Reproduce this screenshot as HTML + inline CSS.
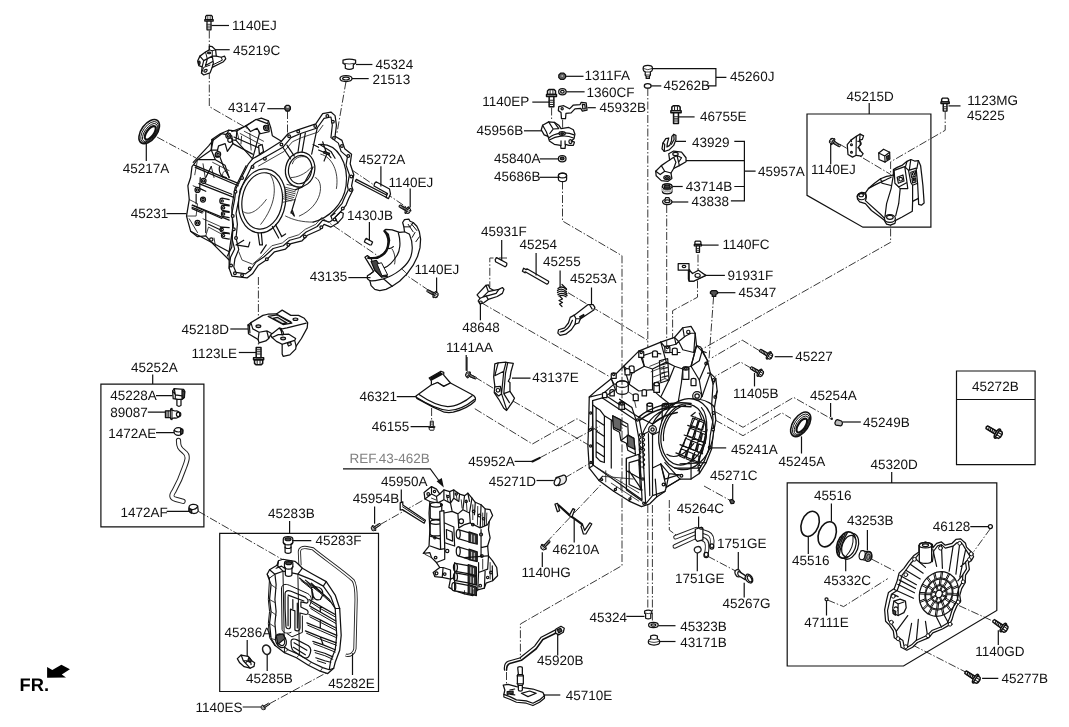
<!DOCTYPE html>
<html><head><meta charset="utf-8"><title>Diagram</title>
<style>
html,body{margin:0;padding:0;background:#fff;}
svg{display:block;filter:grayscale(1);font-family:"Liberation Sans",sans-serif;}
text{font-size:13.5px;fill:#111;text-rendering:geometricPrecision;}
.l{stroke:#111;stroke-width:1.2;fill:none;}
.d{stroke:#222;stroke-width:0.9;fill:none;stroke-dasharray:8 2 1.5 2;}
.p{stroke:#111;stroke-width:1.25;fill:#fff;stroke-linejoin:round;stroke-linecap:round;}
.n{stroke:#111;stroke-width:1.2;fill:none;stroke-linejoin:round;stroke-linecap:round;}
.t{stroke:#222;stroke-width:0.85;fill:none;stroke-linejoin:round;stroke-linecap:round;}
.g{stroke:#111;stroke-width:1.2;fill:#bbb;stroke-linejoin:round;}
.k{stroke:#111;stroke-width:1.2;fill:#444;stroke-linejoin:round;}
</style></head><body>
<svg width="1069" height="727" viewBox="0 0 1069 727">
<rect x="0" y="0" width="1069" height="727" fill="#fff"/>
<!-- 00_defs.svg -->
<defs>
<g id="bolt"><path class="p" d="M-2.2,0 h4.4 l1.2,1.2 v3 h-6.8 v-3 z"/><path class="t" d="M-1.2,0.6 v3.4 M1.2,0.6 v3.4"/><path class="p" d="M-4.2,4.2 h8.4 v1.6 h-8.4 z"/><path class="p" d="M-2,5.8 h4 v8.7 h-4 z"/><path class="t" d="M-2,9 h4 M-2,10.8 h4 M-2,12.6 h4"/></g>
<g id="sbolt"><path class="p" d="M-2,0 h4 l1,1 v2.4 h-6 v-2.4 z"/><path class="p" d="M-3.6,3.4 h7.2 v1.4 h-7.2 z"/><path class="p" d="M-1.6,4.8 h3.2 v6.5 h-3.2 z"/><path class="t" d="M-1.6,7.5 h3.2 M-1.6,9.3 h3.2"/></g>
<g id="dbolt"><path class="p" d="M0,-1.2 L9.6,-1.45 L9.6,1.45 L0,1.2 Q-0.9,0 0,-1.2 Z"/><path class="t" d="M1.6,-1.3 L2.3,1.3 M3.2,-1.3 L3.9,1.3 M4.8,-1.3 L5.5,1.3 M6.4,-1.4 L7.1,1.4 M8,-1.4 L8.6,1.4" style="stroke:#111;stroke-width:.9"/><ellipse class="p" cx="9.9" cy="0" rx="1.5" ry="4.1"/><path class="p" d="M9.9,-3.1 L12.6,-2.9 A1.2,3 0 0 1 12.6,2.9 L9.9,3.1 Z"/><path class="t" d="M10.4,-1.1 H13.6 M10.4,1.1 H13.6" style="stroke:#111"/></g>
</defs>

<!-- 10_housing.svg -->
<g transform="translate(170,95) scale(0.2751)">
<g style="vector-effect:non-scaling-stroke">
<path class="p" vector-effect="non-scaling-stroke" d="M152,162 L183,141 L213,128 L243,131 L312,90 L332,84 L358,94 L366,118 L372,148 L405,168 L430,140 L470,125 L530,105 L555,68 L585,62 L600,75 L605,110 L600,150 L625,165 L635,195 L660,215 L655,250 L668,290 L660,330 L665,345 L650,375 L640,400 L615,430 L600,445 L610,465 L585,480 L560,470 L545,490 L500,510 L480,530 L440,540 L420,560 L380,570 L350,600 L320,620 L300,650 L280,665 L225,658 L215,630 L215,600 L150,535 L130,512 L100,515 L75,495 L60,440 L70,380 L65,330 L75,300 L80,260 L100,235 L150,200 Z"/>
<!-- flange outer-left edge -->
<path class="n" vector-effect="non-scaling-stroke" d="M405,168 L330,215 L300,232 L285,250 L265,290 L240,340 L235,380 L225,430 L230,470 L225,520 L235,560 L220,590 L215,630"/>
<!-- flange inner edge -->
<path class="n" vector-effect="non-scaling-stroke" d="M312,245 L410,190 L440,155 L475,140 L535,120 L560,85 L585,80 L590,110 L585,155 L612,175 L622,205 L645,225 L640,255 L652,290 L645,330 L648,345 L635,372 L625,395 L603,420 L585,440 L590,455 L580,462 L555,455 L535,478 L495,498 L472,518 L435,528 L412,548 L375,558 L342,588 L312,608 L292,638 L275,650 L240,645 L232,625 L236,595 L250,562 L240,520 L245,470 L240,430 L250,380 L255,345 L278,298 L298,258 Z"/>
<!-- second inner edge (thickness of the flange wall) -->
<path class="t" vector-effect="non-scaling-stroke" d="M322,258 L415,205 L445,170 L478,155 L538,135 L556,110 M250,570 L262,600 L300,615 L335,585 L370,548 L408,538 L430,520 L468,508 L492,488 L530,470 L552,445"/>
<!-- main bore -->
<ellipse class="p" vector-effect="non-scaling-stroke" cx="335" cy="385" rx="85" ry="117" transform="rotate(9 335 385)"/>
<ellipse class="n" vector-effect="non-scaling-stroke" cx="335" cy="385" rx="73" ry="103" transform="rotate(9 335 385)"/>
<path class="t" vector-effect="non-scaling-stroke" d="M365,290 C390,330 385,400 330,470 M268,425 C290,440 320,420 350,380"/>
<!-- second bore -->
<ellipse class="p" vector-effect="non-scaling-stroke" cx="473" cy="271" rx="53" ry="64" transform="rotate(12 473 271)"/>
<ellipse class="n" vector-effect="non-scaling-stroke" cx="473" cy="271" rx="42" ry="52" transform="rotate(12 473 271)"/>
<path class="t" vector-effect="non-scaling-stroke" d="M445,250 C450,230 470,220 495,225 M440,300 C460,300 490,290 515,262"/>
<!-- bell inner arcs -->
<path class="n" vector-effect="non-scaling-stroke" d="M540,180 C610,172 650,250 640,330 C630,400 575,448 520,462"/>
<path class="t" vector-effect="non-scaling-stroke" d="M528,300 C560,310 560,400 470,440 M420,440 C450,455 480,462 520,462 M548,215 C590,225 615,280 605,340"/>
<!-- hatch between bores -->
<path class="t" vector-effect="non-scaling-stroke" d="M418,335 L455,345 M417,342 L455,352 M416,349 L455,359 M415,356 L453,366 M414,363 L450,373 M413,370 L446,379 M412,377 L440,385 M425,325 L470,335 L455,380 L410,390"/>
<path class="n" vector-effect="non-scaling-stroke" d="M455,345 L480,335 L520,262 M440,430 L455,380"/>
<!-- ribs top between bores -->
<path class="n" vector-effect="non-scaling-stroke" d="M410,190 L438,232 M425,182 L452,222 M475,140 L465,210 M492,138 L480,208 M535,120 L515,215 M545,180 L585,205 L600,230 M555,170 L570,215 L560,240"/>
<!-- ribs bottom -->
<path class="n" vector-effect="non-scaling-stroke" d="M372,478 L395,520 M384,472 L405,512 M320,502 L326,545 L336,545 L332,502 M268,528 L240,545 L285,552 L290,535 M440,425 L452,440 L445,420 M350,545 L330,575 M420,505 L405,515"/>
<!-- body details left -->
<path class="n" vector-effect="non-scaling-stroke" d="M88,255 L250,322 M92,263 L248,330 M105,322 L232,372 M82,400 L215,455 M80,408 L120,425 M75,495 L215,570 M213,128 L200,160 L152,162 M243,131 L240,165 L200,160 M312,90 L325,140 L300,232 M358,94 L345,130 L325,140 M240,165 L300,232 M150,200 L165,235 L100,235 M165,235 L200,255 L215,300 M130,300 L150,260 M215,600 L215,570 L230,470"/>
<path class="t" vector-effect="non-scaling-stroke" d="M255,140 L330,180 M270,132 L340,168 M330,180 L325,215 M205,280 C195,270 188,285 192,300 M155,245 L215,275 M100,235 L90,290 M70,380 L100,395 L95,440 L60,440 M130,512 L140,480 L215,520 M120,450 L210,490"/>

<!-- lugs and extra body lines -->
<path class="p" vector-effect="non-scaling-stroke" d="M276.6,112.7 L312.6,88.7 L356.6,104.7 L360.6,132.8 L328.6,140.8 L316.6,120.7 L292.6,132.8 Z"/>
<path class="p" vector-effect="non-scaling-stroke" d="M156.5,164.8 L188.5,140.8 L224.5,148.8 L228.5,176.8 L208.5,204.8 L200.5,176.8 L176.5,184.8 L172.5,200.8 L150,200 Z"/>
<circle class="n" vector-effect="non-scaling-stroke" cx="348" cy="118" r="8"/><circle class="n" vector-effect="non-scaling-stroke" cx="218" cy="164" r="8"/><circle class="n" vector-effect="non-scaling-stroke" cx="172" cy="218" r="8"/>
<path class="n" vector-effect="non-scaling-stroke" d="M224.5,132.8 L276.6,112.7 M232.5,152.8 L324.6,192.8 M228.5,176.8 L300,215 M84.4,244.9 L140.4,184.8 L156.5,164.8 M124.4,320.9 L224.5,361 M80.4,401 L188.5,449 M80.4,413 L116.4,429 M180,260 C175,285 190,300 205,300 M195,262 L215,300 M110,300 L108,340 L130,350 M95,360 L95,395 M130,420 L130,500 M140,470 L215,505 M172.5,200.8 L195,262"/>
<path class="n" vector-effect="non-scaling-stroke" d="M276.6,256.9 L236.5,336.9 L224.5,409 L228.5,489 L224.5,553 L208.5,585" />
<path class="t" vector-effect="non-scaling-stroke" d="M243,131 L250,160 M260,150 L258,178 M290,140 L295,200 M150,260 L160,300 M120,250 L128,300 M84,330 L120,345 M70,450 L100,500 M160,520 L165,548" style="stroke:#111"/>
<!-- bosses -->
<g class="p" vector-effect="non-scaling-stroke">
<circle vector-effect="non-scaling-stroke" cx="175" cy="215" r="9"/><circle vector-effect="non-scaling-stroke" cx="212" cy="148" r="9"/><circle vector-effect="non-scaling-stroke" cx="350" cy="120" r="9"/>
<circle vector-effect="non-scaling-stroke" cx="122" cy="312" r="9"/><circle vector-effect="non-scaling-stroke" cx="100" cy="345" r="9"/><circle vector-effect="non-scaling-stroke" cx="120" cy="380" r="9"/>
<circle vector-effect="non-scaling-stroke" cx="100" cy="465" r="9"/><circle vector-effect="non-scaling-stroke" cx="150" cy="525" r="6"/>
<path vector-effect="non-scaling-stroke" d="M215,380 L190,375 A8,9 0 1 0 190,395 L215,400 M215,403 L195,400 A8,9 0 1 0 195,420 L215,424 M215,427 L195,424 A8,9 0 1 0 195,442 L215,446 M215,482 L190,480 A8,9 0 1 0 190,498 L215,502 M215,504 L195,502 A8,9 0 1 0 195,520 L215,524"/>
<path vector-effect="non-scaling-stroke" d="M325,215 L322,185 L335,180 L340,205 Z"/>
</g>
<g class="n">
<circle vector-effect="non-scaling-stroke" cx="190" cy="385" r="4"/><circle vector-effect="non-scaling-stroke" cx="195" cy="410" r="4"/><circle vector-effect="non-scaling-stroke" cx="195" cy="433" r="4"/><circle vector-effect="non-scaling-stroke" cx="190" cy="489" r="4"/><circle vector-effect="non-scaling-stroke" cx="195" cy="511" r="4"/>
<circle vector-effect="non-scaling-stroke" cx="175" cy="215" r="4"/><circle vector-effect="non-scaling-stroke" cx="212" cy="148" r="4"/><circle vector-effect="non-scaling-stroke" cx="350" cy="120" r="4"/><circle vector-effect="non-scaling-stroke" cx="122" cy="312" r="4"/><circle vector-effect="non-scaling-stroke" cx="100" cy="345" r="4"/><circle vector-effect="non-scaling-stroke" cx="120" cy="380" r="4"/><circle vector-effect="non-scaling-stroke" cx="100" cy="465" r="4"/>
</g>
<!-- flange bolt holes -->
<g class="p">
<circle vector-effect="non-scaling-stroke" cx="300" cy="262" r="5"/><circle vector-effect="non-scaling-stroke" cx="345" cy="232" r="5"/><circle vector-effect="non-scaling-stroke" cx="405" cy="180" r="5"/><circle vector-effect="non-scaling-stroke" cx="433" cy="150" r="5"/><circle vector-effect="non-scaling-stroke" cx="466" cy="133" r="5"/><circle vector-effect="non-scaling-stroke" cx="528" cy="113" r="5"/><circle vector-effect="non-scaling-stroke" cx="572" cy="76" r="5"/><circle vector-effect="non-scaling-stroke" cx="592" cy="97" r="5"/><circle vector-effect="non-scaling-stroke" cx="596" cy="156" r="5"/><circle vector-effect="non-scaling-stroke" cx="625" cy="185" r="5"/><circle vector-effect="non-scaling-stroke" cx="648" cy="222" r="5"/><circle vector-effect="non-scaling-stroke" cx="659" cy="296" r="5"/><circle vector-effect="non-scaling-stroke" cx="657" cy="345" r="5"/><circle vector-effect="non-scaling-stroke" cx="628" cy="413" r="5"/><circle vector-effect="non-scaling-stroke" cx="598" cy="453" r="5"/><circle vector-effect="non-scaling-stroke" cx="550" cy="481" r="5"/><circle vector-effect="non-scaling-stroke" cx="490" cy="514" r="5"/><circle vector-effect="non-scaling-stroke" cx="430" cy="544" r="5"/><circle vector-effect="non-scaling-stroke" cx="352" cy="597" r="5"/><circle vector-effect="non-scaling-stroke" cx="290" cy="631" r="5"/><circle vector-effect="non-scaling-stroke" cx="236" cy="648" r="5"/><circle vector-effect="non-scaling-stroke" cx="240" cy="520" r="5"/><circle vector-effect="non-scaling-stroke" cx="232" cy="488" r="5"/><circle vector-effect="non-scaling-stroke" cx="238" cy="352" r="5"/><circle vector-effect="non-scaling-stroke" cx="262" cy="302" r="5"/><circle vector-effect="non-scaling-stroke" cx="228" cy="440" r="5"/><circle vector-effect="non-scaling-stroke" cx="222" cy="620" r="5"/><circle vector-effect="non-scaling-stroke" cx="262" cy="655" r="5"/>
</g>
<!-- small fittings on right -->
<path class="n" vector-effect="non-scaling-stroke" d="M600,445 L620,425 L630,430 L628,445 L610,465 M585,440 L600,430 M540,200 L575,215 L585,228 M520,180 L540,190"/>
<path class="k" vector-effect="non-scaling-stroke" d="M560,205 L580,212 L578,218 L558,211 Z"/>
</g></g>

<!-- 11_case.svg -->
<g transform="translate(570,325) scale(0.2751)">
<path class="p" vector-effect="non-scaling-stroke" d="M70,262 L100,235 L150,195 L195,150 L250,95 L330,62 L380,45 L410,10 L440,5 L455,30 L460,75 L480,95 L500,130 L510,175 L530,195 L535,240 L525,300 L530,345 L520,400 L515,450 L495,500 L470,540 L440,560 L400,560 L350,590 L345,605 L315,625 L290,650 L260,660 L215,640 L160,605 L105,565 L70,520 L65,440 L68,350 Z"/>
<!-- left face frame -->
<path class="n" vector-effect="non-scaling-stroke" d="M70,262 L120,250 L250,335 L262,400 L268,520 L275,650 M82,275 L118,265 L238,345 L250,410 L256,520 L262,635 L85,510 Z M70,520 L85,510 M105,565 L118,550 M160,605 L170,590 M215,640 L222,622"/>
<path class="n" vector-effect="non-scaling-stroke" d="M95,300 L95,480 L110,495 L125,500 L125,330 L110,310 Z M125,330 L150,345 V520 M150,345 L185,370 M95,345 L125,365 M95,385 L125,405 M95,425 L125,445 M95,460 L125,480"/>
<path class="n" vector-effect="non-scaling-stroke" d="M155,330 L210,360 L212,400 L232,412 L238,470 L210,455 L205,430 L185,420 L180,390 L158,378 Z M160,345 L205,370 M185,420 L212,400 M205,485 L250,470 L258,560 L205,530 Z M205,485 L205,530 M215,530 L262,600"/>
<path class="t" vector-effect="non-scaling-stroke" d="M100,520 L250,610 M120,550 L230,560 M150,575 L250,640 M185,560 L185,600 M130,530 L130,570"/>
<!-- chain/center column -->
<path class="n" vector-effect="non-scaling-stroke" d="M262,400 L290,385 L300,400 L300,620 L275,650 M285,395 L290,620 M300,400 L330,385 L335,340 M300,520 L330,505 L350,590 M300,620 L345,605 M315,625 L310,560"/>
<path class="n" vector-effect="non-scaling-stroke" d="M255,395 q-6,4 0,9 q6,4 0,9 q-6,4 0,9 q6,4 0,9 q-6,4 0,9 q6,4 0,9 q-6,4 0,9 q6,4 0,9 q-6,4 0,9 q6,4 0,9 q-6,4 0,9 q6,4 0,9 q-6,4 0,9 q6,4 0,9 M268,395 q6,4 0,9 q-6,4 0,9 q6,4 0,9 q-6,4 0,9 q6,4 0,9 q-6,4 0,9 q6,4 0,9 q-6,4 0,9 q6,4 0,9 q-6,4 0,9 q6,4 0,9 q-6,4 0,9 q6,4 0,9 q-6,4 0,9" style="stroke-width:1.2"/>
<!-- top surface -->
<path class="n" vector-effect="non-scaling-stroke" d="M120,250 L160,215 L215,215 L250,240 L300,235 L330,262 L360,285 L390,300 L345,330 L300,360 L250,335 M160,215 L150,195 M215,215 L225,175 L195,150 M225,175 L270,150 L300,160 L300,235 M270,150 L250,95 M300,160 L350,135 L380,150 L360,200 L330,262 M350,135 L330,62 M380,150 L410,160 L440,150 L460,75 M410,160 L405,210 L390,300 M440,150 L470,200 L480,260 L440,285 L390,300 M480,95 L470,130 L440,150"/>
<path class="n" vector-effect="non-scaling-stroke" d="M380,45 L395,60 L420,40 L440,30 L455,30 M395,60 L410,90 L450,100 L460,75 M410,10 L415,40 M330,62 L345,80 L385,70 L395,60 M345,80 L352,100 L400,100 M250,95 L262,112 L300,100 L330,105 M262,112 L270,150"/>
<path class="t" vector-effect="non-scaling-stroke" d="M290,150 L340,130 M295,170 L345,150 M300,190 L340,175 M310,210 L345,195 M165,235 L200,235 L230,255 M180,270 L225,300 M230,255 L240,300 M340,150 L345,195 L360,200"/>
<!-- bosses (cylinders) -->
<g class="p">
<path vector-effect="non-scaling-stroke" d="M168,215 a22,12 0 0 1 44,0 v25 a22,12 0 0 1 -44,0 z"/>
<path vector-effect="non-scaling-stroke" d="M178,285 a10,6 0 0 1 20,0 v22 h-20 z M145,240 a8,5 0 0 1 16,0 v18 h-16 z M230,255 a9,5 0 0 1 18,0 v20 h-18 z M280,290 a10,6 0 0 1 20,0 v25 h-20 z M335,292 a12,7 0 0 1 24,0 v40 h-24 z M305,215 a10,6 0 0 1 20,0 v30 h-20 z M410,158 a11,6 0 0 1 22,0 v40 h-22 z M150,180 a9,6 0 0 1 18,0 v14 h-18 z M250,100 a9,6 0 0 1 18,0 v18 h-18 z M345,82 a9,6 0 0 1 18,0 v18 h-18 z M372,90 a9,6 0 0 1 18,0 v18 h-18 z M215,155 a9,6 0 0 1 18,0 v18 h-18 z M262,240 a8,5 0 0 1 16,0 v18 h-16 z"/>
<circle vector-effect="non-scaling-stroke" cx="462" cy="258" r="16"/><circle vector-effect="non-scaling-stroke" cx="462" cy="258" r="8"/>
<circle vector-effect="non-scaling-stroke" cx="300" cy="380" r="14"/><circle vector-effect="non-scaling-stroke" cx="300" cy="380" r="6"/>
</g>
<g class="n">
<ellipse vector-effect="non-scaling-stroke" cx="190" cy="215" rx="22" ry="12"/><ellipse vector-effect="non-scaling-stroke" cx="188" cy="285" rx="10" ry="6"/><ellipse vector-effect="non-scaling-stroke" cx="290" cy="290" rx="10" ry="6"/><ellipse vector-effect="non-scaling-stroke" cx="347" cy="292" rx="12" ry="7"/><ellipse vector-effect="non-scaling-stroke" cx="315" cy="215" rx="10" ry="6"/><ellipse vector-effect="non-scaling-stroke" cx="421" cy="158" rx="11" ry="6"/><ellipse vector-effect="non-scaling-stroke" cx="347" cy="292" rx="6" ry="3.5"/><ellipse vector-effect="non-scaling-stroke" cx="421" cy="158" rx="5" ry="3"/><ellipse vector-effect="non-scaling-stroke" cx="188" cy="285" rx="5" ry="3"/>
<circle vector-effect="non-scaling-stroke" cx="430" cy="25" r="6"/><circle vector-effect="non-scaling-stroke" cx="159" cy="180" r="4"/><circle vector-effect="non-scaling-stroke" cx="259" cy="100" r="4"/><circle vector-effect="non-scaling-stroke" cx="354" cy="82" r="4"/>
</g>
<!-- ring / bore on right face -->
<path class="n" vector-effect="non-scaling-stroke" d="M300,360 C330,300 400,262 470,270 C500,275 520,290 525,300 M262,400 C280,350 320,300 390,300 M330,385 C345,330 390,295 440,285"/>
<ellipse class="p" vector-effect="non-scaling-stroke" cx="422" cy="397" rx="98" ry="130" transform="rotate(12 422 397)"/><ellipse class="p" vector-effect="non-scaling-stroke" cx="412" cy="398" rx="80" ry="112" transform="rotate(12 412 398)"/>
<path class="n" vector-effect="non-scaling-stroke" d="M340,420 C335,360 370,300 420,292 M352,470 C380,490 420,470 450,430 M478,300 C505,330 505,420 470,480"/>
<!-- grid inside bore -->
<path class="n" vector-effect="non-scaling-stroke" d="M440,330 L490,350 M428,365 L495,390 M415,400 L492,430 M400,435 L482,468 M385,465 L465,498 M455,335 L395,470 M472,342 L420,480 M488,350 L445,490 M498,380 L468,498 M440,330 L455,318 M470,320 L480,345" style="stroke-width:1.2"/>
<path class="n" vector-effect="non-scaling-stroke" d="M345,500 L400,560 M330,505 L360,540 L400,545 M360,540 L350,590 M470,480 L470,540 M440,500 L440,560 M380,520 L470,520 M400,505 L495,500"/>
<!-- right flange holes -->
<g class="p">
<circle vector-effect="non-scaling-stroke" cx="522" cy="200" r="5"/><circle vector-effect="non-scaling-stroke" cx="528" cy="262" r="5"/><circle vector-effect="non-scaling-stroke" cx="522" cy="320" r="5"/><circle vector-effect="non-scaling-stroke" cx="520" cy="380" r="5"/><circle vector-effect="non-scaling-stroke" cx="508" cy="445" r="5"/><circle vector-effect="non-scaling-stroke" cx="470" cy="515" r="5"/><circle vector-effect="non-scaling-stroke" cx="405" cy="548" r="5"/><circle vector-effect="non-scaling-stroke" cx="340" cy="580" r="5"/><circle vector-effect="non-scaling-stroke" cx="495" cy="140" r="5"/><circle vector-effect="non-scaling-stroke" cx="75" cy="320" r="4"/><circle vector-effect="non-scaling-stroke" cx="75" cy="380" r="4"/><circle vector-effect="non-scaling-stroke" cx="75" cy="440" r="4"/><circle vector-effect="non-scaling-stroke" cx="76" cy="500" r="4"/><circle vector-effect="non-scaling-stroke" cx="115" cy="562" r="4"/><circle vector-effect="non-scaling-stroke" cx="165" cy="598" r="4"/><circle vector-effect="non-scaling-stroke" cx="218" cy="632" r="4"/><circle vector-effect="non-scaling-stroke" cx="268" cy="648" r="4"/><circle vector-effect="non-scaling-stroke" cx="245" cy="345" r="4"/><circle vector-effect="non-scaling-stroke" cx="260" cy="450" r="4"/><circle vector-effect="non-scaling-stroke" cx="265" cy="560" r="4"/>
</g>
<path class="n" vector-effect="non-scaling-stroke" d="M460,75 L475,80 L500,130 M500,175 L510,175 M480,95 L495,100 M510,175 L520,215 L515,290 L520,345 L510,400 L505,450 L488,495 L465,530"/>

<!-- extra density -->
<path class="n" vector-effect="non-scaling-stroke" d="M250,335 C290,300 360,275 440,285 M255,345 C295,312 360,288 440,297 M300,360 C320,340 350,325 390,318" style="stroke-width:1.5"/>
<g class="n" style="stroke-width:1.1">
<path vector-effect="non-scaling-stroke" d="M446,338 L466,346 L458,372 L438,364 Z M470,348 L488,356 L482,382 L462,374 Z M434,374 L454,382 L446,410 L426,402 Z M458,384 L478,392 L472,420 L452,412 Z M482,394 L496,400 L492,428 L476,422 Z M420,412 L440,420 L432,448 L412,440 Z M444,422 L464,430 L458,458 L438,450 Z M468,432 L486,440 L480,468 L462,460 Z M404,450 L424,458 L416,484 L398,476 Z M428,460 L448,468 L442,494 L422,486 Z M452,470 L470,478 L464,502 L446,496 Z"/>
</g>
<path class="n" vector-effect="non-scaling-stroke" d="M205,485 L205,600 L262,640 M215,500 L250,490 L256,600 L215,580 Z M330,505 L345,560 L395,545 M350,590 L400,560 M120,250 L118,265 M130,258 L165,235 M325,130 L355,122 L360,200 L330,210 Z M332,145 L352,140 M332,160 L353,155 M333,175 L354,170 M334,190 L355,185" />
<path class="n" vector-effect="non-scaling-stroke" d="M82,275 L82,508 M95,300 L82,290 M240,345 L225,300 L180,270 M150,195 L165,235 M195,150 L215,215 M380,45 L385,70 M455,30 L450,100 M460,75 L440,150 M500,130 L470,200 M510,175 L480,260 M530,195 L520,215 M535,240 L528,262"/>
<g class="p">
<path vector-effect="non-scaling-stroke" d="M300,100 a9,6 0 0 1 18,0 v16 h-18 z M440,200 a9,6 0 0 1 18,0 v20 h-18 z M200,165 a9,6 0 0 1 18,0 v16 h-18 z M118,250 a8,5 0 0 1 16,0 v14 h-16 z"/>
</g>
<path class="k" vector-effect="non-scaling-stroke" d="M155,330 L185,345 L185,385 L158,372 Z M208,400 L232,412 L236,452 L210,440 Z" style="fill:#666"/>
</g>

<!-- 20_topleft.svg -->
<!-- dash-dot lines -->
<path class="d" d="M209.3,30.5 V106.6 L250,130"/>
<path class="d" d="M287.5,111 V133"/>
<path class="d" d="M157.2,137.2 L196,158"/>
<path class="d" d="M346,81.5 L337,133"/>
<path class="d" d="M352,170 L411.5,210.7"/>
<path class="d" d="M322,218 L437,296"/>
<!-- 1140EJ top bolt -->
<use href="#bolt" x="209" y="15.3"/>
<path class="l" d="M211.5,25.5 H229"/>
<!-- 45219C bracket -->
<g transform="translate(100,0) scale(0.2245)">
<path class="p" vector-effect="non-scaling-stroke" d="M487,222 L487,205 L500,208 L515,222 L518,250 L540,255 L555,250 L560,262 L550,275 L500,300 L490,325 L462,334 L452,325 L455,298 L440,292 L435,272 L445,250 L470,232 Z"/>
<path class="n" vector-effect="non-scaling-stroke" d="M455,298 L462,270 L445,250 M462,270 L500,250 L518,250 M500,250 L505,280 L500,300 M478,262 L470,292 L500,275"/>
<ellipse class="k" vector-effect="non-scaling-stroke" cx="486" cy="236" rx="7" ry="3.5"/>
<ellipse class="n" vector-effect="non-scaling-stroke" cx="470" cy="315" rx="8" ry="5" transform="rotate(-35 470 315)"/>
<ellipse class="k" vector-effect="non-scaling-stroke" cx="442" cy="280" rx="4" ry="8"/><path class="n" vector-effect="non-scaling-stroke" d="M487,222 L500,226 L500,250 M515,222 L500,226 M470,232 L478,262 M452,325 L462,300 L490,290 M540,255 L545,268 L500,290" style="stroke-width:1"/>
</g>
<path class="l" d="M215.8,49.7 H229.7"/>
<!-- 43147 nut -->
<path class="p" d="M284.8,107 l1.5,-1.6 h2.6 l1.5,1.6 v2.2 l-1.4,1.8 h-2.8 l-1.4,-1.8 z" style="fill:#555"/><ellipse cx="287.6" cy="107" rx="1.5" ry="0.9" fill="#ccc"/>
<path class="l" d="M267.3,108.7 H284.6"/>
<!-- 45217A seal -->
<g transform="rotate(36 149.2 131.6)">
<ellipse class="p" cx="149.2" cy="131.6" rx="7.8" ry="13.8" style="stroke-width:1.6"/>
<ellipse class="n" cx="149.8" cy="131.8" rx="6.4" ry="12.2" style="stroke-width:.9"/>
<ellipse class="n" cx="150.4" cy="132" rx="5.2" ry="10.6" style="stroke-width:.9"/>
<ellipse class="p" cx="150.8" cy="132" rx="3.6" ry="8" style="stroke-width:2.2"/>
</g>
<path class="l" d="M146.3,143.8 V161"/>
<!-- 45231 leader -->
<path class="l" d="M166.5,213.6 H186.5"/>
<!-- 45324 plug -->
<path class="p" d="M343,60.2 q6.2,-2 12.6,0 v3 l-2.3,1.6 v3.4 q-4,2.2 -8,0 v-3.4 l-2.3,-1.6 z"/>
<path class="t" d="M343,63.2 q6.2,1.8 12.6,0"/>
<path class="l" d="M356,64.5 H372.4"/>
<!-- 21513 washer -->
<ellipse class="p" cx="346" cy="78.6" rx="6" ry="2.9"/><ellipse class="n" cx="346" cy="78.6" rx="3.4" ry="1.4"/>
<path class="l" d="M352,78.6 H368.7"/>
<!-- 45272A tube -->
<path class="p" d="M355.3,181.2 L356.3,179.4 L388,195.8 L387,197.8 Z"/>
<path class="p" d="M374.5,183.5 L376,181.8 L389.5,189 L390.5,194 L388.5,198.6 L386,197.2 L387.5,193.5 L374,186 Z"/>
<path class="l" d="M380.9,166.2 V186.6"/>
<!-- 1140EJ small bolt -->
<use href="#dbolt" transform="translate(399.6,205.8) rotate(30) scale(0.88)"/>
<path class="l" d="M410.2,188.5 V207.5"/>
<!-- 1430JB pin -->
<path class="p" d="M365,240.2 l1.2,-1.8 l6.4,3.6 l-1.2,2.8 l-1.4,0.2 l-5.6,-3 z"/>
<path class="l" d="M369.4,222 V240.4"/>
<!-- 43135 shield -->
<g transform="translate(355,212) scale(0.12376)">
<path class="p" vector-effect="non-scaling-stroke" d="M385,85 L400,62 L435,58 L445,75 L470,85 L500,115 L520,160 L530,220 L525,290 L505,360 L470,430 L420,500 L360,560 L300,600 L250,625 L200,635 L160,625 L130,595 L120,555 L100,540 L100,515 L125,500 L150,480 L80,365 L100,352 L130,375 L180,375 L230,340 L265,290 L280,230 L270,180 L235,150 L250,140 L300,145 L360,165 L400,160 L395,120 Z"/>
<path vector-effect="non-scaling-stroke" d="M235,150 C270,190 285,240 255,310 C230,355 170,385 100,368" fill="none" stroke="#111" stroke-width="2.4"/>
<path class="n" vector-effect="non-scaling-stroke" d="M440,180 C475,260 465,340 440,385 C410,440 330,510 230,540 M350,168 C375,250 360,320 340,350 C310,400 270,440 235,452 M400,160 C420,170 435,175 440,180 M265,295 C290,300 300,290 310,280 M130,375 L160,470 L215,525 M150,480 L125,500 M120,555 C160,560 200,545 230,540 M230,540 L300,600" />
<path class="k" vector-effect="non-scaling-stroke" d="M130,400 L172,390 L262,520 L215,526 L160,470 Z"/>
<path vector-effect="non-scaling-stroke" d="M178,420 L214,410 L264,508 L218,514 Z" fill="#fff" stroke="#111" stroke-width="1"/>
<path class="n" vector-effect="non-scaling-stroke" d="M430,100 L470,160 M455,95 L500,150 M485,165 L462,205 M520,200 L492,240 M470,85 L445,120 L395,120" style="stroke-width:1"/>
<path class="t" vector-effect="non-scaling-stroke" d="M300,300 C320,330 330,380 320,420 M420,500 C400,480 390,470 380,462" style="stroke:#111"/>
</g>
<path class="l" d="M348.3,277.6 H370.5"/>
<!-- 1140EJ bottom bolt -->
<use href="#dbolt" transform="translate(427.4,290.7) rotate(27) scale(0.85)"/>
<path class="l" d="M436.6,277.6 V293"/>

<!-- 21_topcenter.svg -->
<!-- dash-dot lines top center -->
<path class="d" d="M551.6,107.5 V121"/>
<path class="d" d="M562.6,119.6 V128"/>
<path class="d" d="M562.5,181.5 V221 L622,255.7 V500"/>
<path class="d" d="M647.8,88 V348"/>
<path class="d" d="M666.7,205 V352"/>
<path class="d" d="M698,254.5 V270 M697.5,280.4 V297.2 L672.6,310.7 V339"/>
<path class="d" d="M713.6,296.5 L708.5,366"/>
<path class="d" d="M945.2,111.5 V130.3 L890.6,161.8 V242.3 L700.6,350"/>
<path class="d" d="M839.8,144.2 L890.6,174.4"/>
<path class="d" d="M759.9,351 L742.2,340.1 L711.9,357.8"/>
<path class="d" d="M751.5,368.4 L740.5,362 L715.3,376.3"/>
<path class="d" d="M507,258 H489.8 V287"/>
<path class="d" d="M568,292.7 L648.8,341"/>
<path class="d" d="M481.5,302.8 L608.4,376"/>
<!-- 1311FA nut -->
<path class="p" d="M558.8,75 l1.8,-1.8 h3.2 l1.8,1.8 v2.6 l-1.8,1.8 h-3.2 l-1.8,-1.8 z" style="fill:#666"/>
<ellipse cx="562.2" cy="76" rx="1.6" ry="1" fill="#ddd" stroke="#222" stroke-width=".5"/>
<path class="l" d="M565.6,76.3 H583.5"/>
<!-- 1360CF washer -->
<ellipse class="p" cx="562.4" cy="91.8" rx="3.7" ry="3.1"/><ellipse class="n" cx="562.4" cy="91.8" rx="1.8" ry="1.4"/>
<path class="l" d="M566.1,91.8 H584.6"/>
<!-- 1140EP bolt -->
<use href="#bolt" x="551.5" y="89.6" transform="translate(551.5,89.6) scale(1.18) translate(-551.5,-89.6)"/>
<path class="l" d="M532.3,102.1 H549.4"/>
<!-- 45932B lever -->
<g transform="translate(460,50) scale(0.2245)">
<path class="p" vector-effect="non-scaling-stroke" d="M440,252 L462,248 L488,262 L505,245 L535,243 L540,233 L562,235 L566,268 L545,272 L538,260 L512,262 L495,280 L472,282 L470,306 L452,306 L450,278 L438,270 Z"/>
<ellipse class="n" vector-effect="non-scaling-stroke" cx="455" cy="262" rx="5" ry="5"/>
<path class="n" vector-effect="non-scaling-stroke" d="M545,242 L556,243 L558,262 L547,262 Z"/>
</g>
<path class="l" d="M587.5,107.7 H595.8"/>
<!-- 45956B -->
<g transform="translate(460,50) scale(0.2245)">
<path class="p" vector-effect="non-scaling-stroke" d="M362,355 L368,335 L395,320 L420,322 L440,335 L450,350 L485,345 L505,355 L512,375 L508,395 L495,405 L510,410 L505,425 L485,425 L470,420 L468,438 L450,438 L448,425 L420,420 L398,405 L392,385 L375,378 Z"/>
<path class="n" vector-effect="non-scaling-stroke" d="M368,335 L385,365 L392,385 M395,320 L415,352 L400,372 M420,322 L440,350 L415,352 M398,390 C420,372 470,360 508,378 M400,400 C425,385 470,375 505,392 M450,425 V405 M468,420 V405"/>
<ellipse class="g" vector-effect="non-scaling-stroke" cx="455" cy="372" rx="14" ry="8"/><ellipse class="k" vector-effect="non-scaling-stroke" cx="455" cy="372" rx="6" ry="3.5"/>
<ellipse class="n" vector-effect="non-scaling-stroke" cx="492" cy="408" rx="7" ry="9"/>
</g>
<path class="l" d="M524,130.8 H542"/>
<!-- 45840A -->
<ellipse class="p" cx="562.2" cy="158.7" rx="3.8" ry="3.1"/><ellipse class="k" cx="562.2" cy="158.5" rx="1.9" ry="1.3"/>
<path class="l" d="M539.7,158.9 H558.3"/>
<!-- 45686B -->
<path class="p" d="M558.4,175.5 a4.1,2.4 0 0 1 8.2,0 v3.8 a4.1,2.4 0 0 1 -8.2,0 z"/><ellipse class="n" cx="562.5" cy="175.5" rx="4.1" ry="2.4"/>
<path class="l" d="M539.7,177.3 H558.3"/>
<!-- 45260J pin -->
<path class="p" d="M643.2,68 q0,-2.6 4.6,-2.6 q4.6,0 4.6,2.6 v1.6 q0,1.6 -2,2.2 v3 l-1,1.6 v2 h-3.2 v-2 l-1,-1.6 v-3 q-2,-0.6 -2,-2.2 z"/>
<path class="t" d="M643.2,68.5 q4.6,2.6 9.2,0 M645.2,72 h5.2 M645.2,75 h5.2 M646.2,76.8 h3.2"/>
<path class="l" d="M652.3,68.6 H715.9 V85.9 H707.4 M715.9,77.4 H726.4"/>
<!-- 45262B -->
<ellipse class="p" cx="647.7" cy="85.9" rx="3.4" ry="2.2"/>
<path class="l" d="M651.2,85.9 H661.3"/>
<!-- 46755E bolt -->
<use href="#bolt" transform="translate(676,105.7) scale(1.22)"/>
<path class="l" d="M678.4,116.9 H694.6"/>
<!-- 43929 clip -->
<g transform="translate(640,50) scale(0.2245)">
<path class="p" vector-effect="non-scaling-stroke" d="M142,385 L150,376 L160,380 L160,400 L150,425 L130,445 L108,452 L98,440 L102,415 L115,395 L128,392 L122,415 L120,432 L132,425 L140,405 Z"/>
<path class="n" vector-effect="non-scaling-stroke" d="M150,376 L152,398 L140,420 M102,415 L110,420 L108,452"/>
<!-- 45957A lever -->
<path class="p" vector-effect="non-scaling-stroke" d="M128,462 L150,450 L185,455 L205,480 L205,498 L175,515 L150,528 L138,548 L142,572 L125,585 L95,582 L72,560 L70,540 L95,515 L120,498 L132,490 Z"/>
<path class="n" vector-effect="non-scaling-stroke" d="M132,490 L150,478 L160,500 L150,528 M165,470 L172,500 L175,515 M150,478 L165,470 L185,480 L172,500 M95,515 L110,540 L138,548 M70,540 L90,555 L110,540"/>
<ellipse class="n" vector-effect="non-scaling-stroke" cx="158" cy="463" rx="12" ry="7"/>
<ellipse class="g" vector-effect="non-scaling-stroke" cx="120" cy="568" rx="14" ry="9"/><ellipse class="n" vector-effect="non-scaling-stroke" cx="120" cy="568" rx="7" ry="4"/>
</g>
<path class="l" d="M676,141.4 H686 M734.3,141.4 H744.4 V200.9 H730.9 M686,160.7 H744.4 M744.4,171.2 H755.6 M734.3,186.5 H744.4"/>
<!-- 43714B bushing -->
<path class="p" d="M662.4,186.5 a4.8,2.6 0 0 1 9.6,0 v4.8 a4.8,2.6 0 0 1 -9.6,0 z" style="fill:#777"/>
<ellipse class="p" cx="667.2" cy="186.5" rx="4.8" ry="2.6"/><ellipse class="k" cx="667.2" cy="186.7" rx="3" ry="1.5"/>
<path class="t" d="M662.4,188.5 a4.8,2.6 0 0 0 9.6,0 M662.4,190 a4.8,2.6 0 0 0 9.6,0" style="stroke:#fff"/>
<path class="l" d="M672.6,186.5 H682.7"/>
<!-- 43838 -->
<path class="p" d="M662.6,201.5 q0,-1.5 2.4,-2 l0.8,-2 h3 l0.8,2 q2.4,0.5 2.4,2 q0,3 -4.7,3 q-4.7,0 -4.7,-3 z"/>
<ellipse class="n" cx="667.3" cy="201.3" rx="2.6" ry="1.4"/>
<path class="l" d="M671.4,202 H688.3"/>
<!-- 45215D box -->
<path class="l" d="M869.2,103 V114 M807,195.3 V114 H930.9 V227.2 H862.9 Z"/>
<!-- 1123MG bolt -->
<use href="#sbolt" transform="translate(945.1,98.1) scale(1.15)"/>
<path class="l" d="M948.5,105.9 H960.5"/>
<!-- 1140EJ bolt in box -->
<use href="#dbolt" transform="translate(839.8,146) rotate(212) scale(0.85)"/>
<path class="l" d="M830.7,144.5 V164.3"/>
<!-- small bracket, cube, main bracket -->
<g transform="translate(820,125) scale(0.15133)">
<path class="p" vector-effect="non-scaling-stroke" d="M180,130 L205,100 L240,75 L265,60 L288,72 L280,95 L262,100 L268,130 L255,145 L262,165 L285,190 L275,205 L240,200 L215,212 L185,195 Z"/>
<path class="n" vector-effect="non-scaling-stroke" d="M240,75 L238,198 M265,60 L262,100 M250,108 C270,100 280,125 262,135 M250,150 C262,150 270,165 262,170 M205,100 L208,110"/>
<circle class="n" vector-effect="non-scaling-stroke" cx="208" cy="130" r="6"/><circle class="n" vector-effect="non-scaling-stroke" cx="208" cy="180" r="6"/>
<path class="p" vector-effect="non-scaling-stroke" d="M388,185 L420,160 L460,180 L462,225 L430,245 L390,228 Z"/>
<path class="n" vector-effect="non-scaling-stroke" d="M388,185 L428,205 L460,180 M428,205 L430,245"/>
<path class="k" vector-effect="non-scaling-stroke" d="M440,208 L455,200 L456,222 L442,228 Z"/>
<path class="p" vector-effect="non-scaling-stroke" d="M245,470 L255,455 L275,445 L300,448 L320,420 L360,385 L400,355 L440,340 L470,335 L485,330 L485,295 L510,280 L545,265 L575,240 L600,228 L625,238 L650,235 L665,270 L672,330 L680,400 L685,470 L688,515 L670,530 L652,525 L650,485 L612,505 L610,570 L540,610 L500,630 L495,650 L465,662 L440,655 L425,630 L400,610 L340,565 L300,520 L262,508 L248,490 Z"/>
<path class="n" vector-effect="non-scaling-stroke" d="M485,330 L470,420 L440,520 L430,600 M530,420 L520,520 L500,600 M300,448 C310,470 305,490 300,500 L400,590 L430,620 M320,420 C350,400 420,370 470,345 M400,355 L410,385 L470,400 M490,300 L560,275 L575,380 L520,410 L495,385 Z M575,380 L580,420 L530,420 L520,410 M585,300 L635,285 L645,385 L612,398 L600,380 Z M575,240 L565,275 M600,228 L590,298 M650,235 L640,288 M645,385 L650,485 M612,398 L612,505 M560,275 L585,300"/>
<path class="n" vector-effect="non-scaling-stroke" d="M510,345 L548,330 L555,370 L518,385 Z M600,312 L630,302 L635,336 L605,346 Z M608,356 L632,349 L634,376 L612,383 Z"/>
<circle class="n" vector-effect="non-scaling-stroke" cx="533" cy="358" r="12"/><circle class="n" vector-effect="non-scaling-stroke" cx="618" cy="323" r="8"/><circle class="n" vector-effect="non-scaling-stroke" cx="622" cy="364" r="6"/>
<ellipse class="n" vector-effect="non-scaling-stroke" cx="275" cy="472" rx="28" ry="22"/><ellipse class="n" vector-effect="non-scaling-stroke" cx="272" cy="464" rx="15" ry="10"/>
<ellipse class="p" vector-effect="non-scaling-stroke" cx="462" cy="618" rx="36" ry="26"/><ellipse class="n" vector-effect="non-scaling-stroke" cx="462" cy="610" rx="22" ry="13"/>
</g>
<!-- 45931F pin -->
<path class="p" d="M495.2,259.6 l1.4,-2 l10,5.4 a1.3,2.2 25 0 1 -1.6,3.8 l-9.4,-5 z"/>
<path class="l" d="M501.7,240 V260.5"/>
<!-- 45254 pin -->
<path class="p" d="M523.6,268.2 l2.6,1.4 l0.8,-0.8 l21.6,12.4 a1.2,2 30 0 1 -1.6,3 l-21.8,-12.4 l-0.2,1 l-2.6,-1.6 z"/>
<path class="l" d="M536.1,253 V275.5"/>
<!-- 45255 spring -->
<path class="n" d="M558,288.5 q4,-3.4 8.5,1 M557.5,290.5 q4,-3.4 9,1.2 M557.5,292.6 q4.4,-3.4 9.4,1.2 M558,294.6 q4.4,-3 9,1 M559,296 q3.6,-1.6 7,0.8" style="stroke-width:1.3"/>
<path class="n" d="M566.5,289 L562,284.5 M560,296.5 L562.5,299 L559,300.5 L562.5,302.5 L559.5,304 L562,306.5"/>
<path class="l" d="M560.1,270.5 V287.5"/>
<!-- 45253A lever -->
<g transform="translate(440,213) scale(0.2245)">
<path class="p" vector-effect="non-scaling-stroke" d="M660,408 L682,408 L690,420 L685,432 L625,472 L618,490 L602,495 L585,520 L560,540 L535,545 L525,535 L528,520 L555,512 L572,490 L580,465 L598,455 Z"/>
<path class="n" vector-effect="non-scaling-stroke" d="M598,455 L605,470 L625,472 M605,470 L602,495 M535,530 C560,528 580,505 590,478 M668,412 L678,428"/>
<path class="k" vector-effect="non-scaling-stroke" d="M622,462 L640,452 L642,458 L626,468 Z"/>
<!-- 48648 fork -->
<path class="p" vector-effect="non-scaling-stroke" d="M165,365 L205,322 L215,320 L222,335 L240,345 L262,340 L278,332 L285,340 L278,358 L255,372 L215,385 L195,400 L178,405 L170,392 L178,380 Z"/>
<path class="n" vector-effect="non-scaling-stroke" d="M205,322 L215,350 L190,375 L178,380 M215,350 L240,345 M190,375 L250,358 L262,340 M215,385 L205,368"/>
<circle class="n" vector-effect="non-scaling-stroke" cx="182" cy="398" r="6"/>
</g>
<path class="l" d="M591.5,287.5 V305"/>
<path class="l" d="M480.4,304 V320.3"/>
<path class="l" d="M467,357 V371"/>
<!-- 1140FC bolt -->
<use href="#sbolt" transform="translate(697.9,241)"/>
<path class="l" d="M701,245.1 H718.6"/>
<!-- 91931F bracket -->
<path class="p" d="M678.2,263.6 H689 V269.6 H689.6 V279 L698,271 L705.8,275.4 L694,281 H689 L688.4,279 V270.2 H678.2 Z" style="fill:none"/>
<path class="p" d="M689.2,270 V281 H694 L705.8,275.4 L698.5,270.2 L692.5,273.5 L689.2,270 Z"/>
<ellipse class="n" cx="697.6" cy="275.4" rx="2.6" ry="1.9"/><ellipse class="n" cx="684" cy="266.5" rx="1.8" ry="1.2"/>
<path class="l" d="M705.8,275.4 H724.9"/>
<!-- 45347 plug -->
<path class="p" d="M710.4,292 l1.6,-1.5 h4 l1.6,1.5 v1.5 l-1.8,1 v1.8 h-3.6 v-1.8 l-1.8,-1 z" style="fill:#555"/>
<path class="l" d="M717.5,292.7 H735.4"/>
<!-- 45227 bolt -->
<use href="#dbolt" transform="translate(760.2,350.4) rotate(30)"/>
<path class="l" d="M774.7,356.7 H792.7"/>
<!-- 11405B bolt -->
<use href="#dbolt" transform="translate(751,367.8) rotate(30)"/>

<!-- 22_leftmid.svg -->
<path class="d" d="M258.4,277 V324 M258.4,333 V346"/>
<path class="d" d="M198.3,511.3 L284.5,560.7"/>
<!-- 45218D bracket -->
<g transform="translate(235,300) scale(0.09626)">
<path class="p" vector-effect="non-scaling-stroke" d="M135,260 L165,235 L290,160 L340,148 L430,145 L490,105 L580,160 L660,160 L720,190 L755,235 L750,290 L690,400 L635,480 L630,510 L570,570 L500,585 L490,560 L490,460 L430,430 L385,390 L370,365 L350,400 L320,425 L250,445 L240,410 L140,350 Z"/>
<path class="n" vector-effect="non-scaling-stroke" d="M165,235 L185,300 L250,335 L330,320 L385,350 L460,290 L490,300 L540,290 L740,240 M135,260 L150,275 L165,235 M150,275 L155,340 M250,335 L240,410 M330,320 L350,400 M385,350 L370,365 M385,390 L450,360 L560,355 L630,400 L620,420 L520,450 L490,460 M460,290 L480,320 L490,365 M475,300 L500,330 L505,360 M620,420 L635,480 M430,145 L580,225"/>
<path class="p" vector-effect="non-scaling-stroke" d="M345,170 L440,155 L590,240 L500,255 Z"/>
<path class="p" vector-effect="non-scaling-stroke" d="M392,190 L440,180 L540,240 L495,246 Z" style="fill:#ddd"/>
<ellipse class="g" vector-effect="non-scaling-stroke" cx="243" cy="272" rx="25" ry="14"/><ellipse class="g" vector-effect="non-scaling-stroke" cx="628" cy="200" rx="25" ry="13"/><ellipse class="g" vector-effect="non-scaling-stroke" cx="500" cy="400" rx="25" ry="14"/>
<path class="p" vector-effect="non-scaling-stroke" d="M545,452 L578,440 L585,465 L556,478 Z"/>
</g>
<path class="l" d="M230.3,329 H248"/>
<!-- 1123LE bolt (head down) -->
<use href="#bolt" transform="translate(258.6,364.8) rotate(180) scale(1.2)"/>
<path class="l" d="M238.8,352.5 H256.4"/>
<!-- 45252A box -->
<path class="l" d="M152.7,374.5 V384.2 M100.9,384.2 H203.9 V526.8 H100.9 Z"/>
<!-- 45228A -->
<path class="p" d="M172.6,391 L174.2,388.6 L183.6,389.4 L184.8,391.4 L184.4,397.4 L182,399.4 L181,399.4 V405.4 Q179,407.2 176.9,405.4 V399.2 L173.2,398.6 Z"/>
<path class="k" d="M182,390.2 L184.6,391.6 L184.2,397.2 L182,398.8 Z"/>
<path class="n" d="M174.2,388.6 L175.4,394.8 L182,395.8 M172.6,391 L175.4,394.8 L175.2,398.8 M177,399.4 H181"/>
<!-- 89087 -->
<path class="p" d="M165.4,410.8 H170.6 V409 L172,408.4 V410.2 L175,411 A3.6,3.6 0 1 1 175,417.8 L172,418.4 V419.6 L170.6,419 V417.6 H165.4 Z"/>
<path class="t" d="M167,410.8 V417.6 M168.8,410.8 V417.6 M170.6,410.8 V417.6 M172,410.2 V418.4" style="stroke:#111;stroke-width:1"/>
<circle class="n" cx="178.6" cy="414.4" r="2.2"/>
<!-- 1472AE -->
<ellipse class="p" cx="178.4" cy="431.4" rx="4.4" ry="3.9"/>
<path class="n" d="M174.2,430.4 Q178.6,433.6 182.8,430.4"/>
<path class="k" d="M180.6,428.6 L182.8,429.4 V433.4 L180.6,434.4 Z"/>
<g transform="translate(90,300) scale(0.3301)">
<!-- hose -->
<path vector-effect="non-scaling-stroke" d="M268,425 C268,445 272,450 285,460 C300,470 295,485 285,510 C275,540 265,560 255,578 C245,592 245,600 260,604 L282,610" fill="none" stroke="#222" stroke-width="5.2" stroke-linecap="round"/>
<path vector-effect="non-scaling-stroke" d="M268,425 C268,445 272,450 285,460 C300,470 295,485 285,510 C275,540 265,560 255,578 C245,592 245,600 260,604 L282,610" fill="none" stroke="#fff" stroke-width="3.2" stroke-linecap="round"/>
<!-- 1472AF clip -->
<path class="p" vector-effect="non-scaling-stroke" d="M300,628 C300,618 320,616 326,624 L328,640 C322,650 304,648 300,640 Z"/>
<path class="n" vector-effect="non-scaling-stroke" d="M300,630 C306,638 320,636 326,626"/>
<path class="k" vector-effect="non-scaling-stroke" d="M300,632 L308,636 L308,646 L300,640 Z"/>
</g>
<path class="l" d="M156,395.7 H172.5 M147.8,412.2 H166 M156,432.7 H174.2 M166.6,511.3 H189"/>

<!-- 23_cbl.svg -->
<path class="d" d="M474.8,377 L493.4,388.3 M513,401 L590,445.8"/>
<path class="d" d="M474.8,408.7 L532.4,444 L577,418.7 L600,432"/>
<path class="d" d="M380.1,524.6 L422.8,500.4"/>
<path class="d" d="M564.6,478 L592.7,461.5"/>
<path class="d" d="M546.4,542.4 L601,484.6"/>
<path class="d" d="M539.8,457.8 L600,426"/>
<!-- 1141AA bolt -->
<use href="#dbolt" transform="translate(475.8,378.2) rotate(205) scale(0.8)"/>
<!-- 43137E + 46321 -->
<g transform="translate(405,360) scale(0.11226)">
<path class="p" vector-effect="non-scaling-stroke" d="M800,35 L830,25 L900,20 L965,30 L945,100 L935,160 L920,190 L935,200 L935,280 L975,340 L960,370 L905,450 L880,430 L835,350 L795,290 L800,230 L790,150 Z"/>
<path class="n" vector-effect="non-scaling-stroke" d="M830,25 L800,140 M900,20 L880,100 L800,140 M915,25 L895,120 L880,300 L930,380 M880,100 L860,300 L905,440 M800,240 L850,235 L860,300 L835,320 L800,290 M880,300 L935,280"/>
<circle class="n" vector-effect="non-scaling-stroke" cx="828" cy="270" r="16"/>
<path class="p" vector-effect="non-scaling-stroke" d="M215,160 L320,100 L345,110 L345,135 L405,205 L345,235 L290,200 L235,225 L235,185 Z"/>
<path vector-effect="non-scaling-stroke" d="M225,165 L322,110 M232,178 L335,122" fill="none" stroke="#111" stroke-width="2"/>
<path class="p" vector-effect="non-scaling-stroke" d="M98,320 L230,225 L290,200 L345,235 L405,205 L600,310 C625,325 635,345 622,368 C590,400 530,440 430,465 C400,470 370,468 350,465 L250,420 L105,342 Z"/>
<path class="n" vector-effect="non-scaling-stroke" d="M125,308 C200,360 300,410 380,415 C450,415 540,370 598,318 M100,332 C200,395 300,445 390,450 C470,448 560,400 618,352"/>
</g>
<path class="d" d="M431.6,408 V419.5"/>
<path class="l" d="M512,378.2 H530.5 M396.8,396.6 H416.1 M410.6,426.6 H429.4 M466.2,355 V370.7"/>
<!-- 46155 bolt -->
<use href="#sbolt" transform="translate(431.6,430.2) rotate(180) scale(0.8)"/>
<!-- REF line -->
<path d="M343,468.9 H430.3 L441,483.5" fill="none" stroke="#111" stroke-width="1.1"/>
<path d="M443.8,487.4 L436.6,481.2 L441.8,478 Z" fill="#111"/>
<!-- 45950A -->
<path class="l" d="M401.3,489.5 V503.4 M374.6,506.5 V523.8"/>
<path class="p" d="M400.2,502.8 L402.8,501.8 L402.8,505 L425.4,520.2 L424.2,523.2 L402.4,509.6 L400.2,510 Z"/>
<path class="t" d="M402.6,506.8 L424.2,521" style="stroke:#111;stroke-width:1"/>
<!-- 45954B bolt -->
<use href="#dbolt" transform="translate(380,524.2) rotate(147.5) scale(0.72)"/>
<!-- 45952A pin -->
<path class="l" d="M514.6,461.4 H532.4"/>
<path d="M532.4,461.5 L539.8,457.8" stroke="#111" stroke-width="2" fill="none" stroke-linecap="round"/>
<!-- 45271D -->
<path class="l" d="M536.5,480.5 H553.8"/>
<path class="p" d="M556,477.6 L561.6,475.9 a2.7,4.1 20 0 1 2.4,7.6 L558.4,485.6 Z" style="fill:#eee"/>
<ellipse class="p" cx="557.2" cy="481.6" rx="2.7" ry="4.1" transform="rotate(20 557.2 481.6)"/>
<!-- 46210A -->
<path class="l" d="M574.2,519.3 V542.4 M542.3,552.3 V567"/>
<path class="p" d="M555,504.2 L557.6,503.4 L559.6,510.6 L557.4,511.8 Z"/>
<path class="n" d="M558.6,505.2 L569.5,515.1 L582,524.2" style="stroke-width:2.2"/>
<path class="p" d="M569.4,515.4 L573,508.6 L574.8,509.6 L571.8,517.2 Z"/>
<path class="p" d="M582.6,524.6 L584.6,530.4 L589.8,522.8 L591.8,524 L586,533.8 L583.4,534 L581,526.4 Z"/>
<!-- 1140HG bolt -->
<use href="#dbolt" transform="translate(549.4,541.2) rotate(135) scale(0.8)"/>
<!-- valve body -->
<g transform="translate(415,480) scale(0.16513)">
<path class="p" vector-effect="non-scaling-stroke" d="M55,75 L100,40 L130,55 L150,85 L175,60 L210,70 L235,60 L270,85 L300,95 L320,80 L345,110 L365,135 L400,150 L425,175 L455,180 L470,215 L450,250 L445,300 L455,350 L440,400 L445,460 L470,490 L495,530 L500,580 L470,610 L430,625 L420,655 L380,665 L350,700 L300,690 L240,670 L205,650 L215,600 L165,590 L120,585 L110,560 L150,530 L130,500 L100,470 L90,440 L50,445 L85,400 L90,300 L85,200 L90,130 L60,115 Z"/>
<path class="n" vector-effect="non-scaling-stroke" d="M60,115 L100,85 L130,100 L150,85 M130,100 L135,140 L90,130 M135,140 L175,120 L175,60 M175,120 L215,140 L235,110 L235,60 M215,140 L225,190 L260,205 L290,180 L300,95 M290,180 L330,200 L345,110 M330,200 L335,260 L395,290 L400,150 M395,290 L440,270 L450,250 M425,175 L420,280 M260,205 L265,290 M225,190 L175,200 M100,40 L100,85 M210,70 L215,140 M270,85 L265,130 L235,110 M320,80 L330,130 M365,135 L360,210"/>
<path class="p" vector-effect="non-scaling-stroke" d="M92,150 a35,14 0 0 1 70,0 V225 a35,14 0 0 1 -70,0 Z M92,255 a35,14 0 0 1 70,0 V325 a35,14 0 0 1 -70,0 Z"/>
<path class="n" vector-effect="non-scaling-stroke" d="M92,150 a35,14 0 0 0 70,0 M92,255 a35,14 0 0 0 70,0 M92,340 L160,360 M92,400 L150,420"/>
<path class="p" vector-effect="non-scaling-stroke" d="M150,190 L175,185 L180,415 L155,420 Z"/>
<path class="n" vector-effect="non-scaling-stroke" d="M180,260 L235,285 L240,400 L180,380 M190,300 L225,315 L228,370 L192,355 Z"/>
<path class="p" vector-effect="non-scaling-stroke" d="M262,300 L335,322 L335,377 L262,355 Z"/>
<ellipse class="p" vector-effect="non-scaling-stroke" cx="262" cy="327" rx="12" ry="27"/>
<path class="k" vector-effect="non-scaling-stroke" d="M327,314 L377,330 L377,389 L327,377 Z" style="fill:#333"/>
<path vector-effect="non-scaling-stroke" d="M343,330 V375 M359,336 V379" stroke="#fff" stroke-width="0.8" fill="none"/>
<path class="p" vector-effect="non-scaling-stroke" d="M262,405 L335,427 L335,482 L262,460 Z"/>
<ellipse class="p" vector-effect="non-scaling-stroke" cx="262" cy="432" rx="12" ry="27"/>
<path class="k" vector-effect="non-scaling-stroke" d="M327,419 L377,435 L377,494 L327,482 Z" style="fill:#333"/>
<path vector-effect="non-scaling-stroke" d="M343,435 V480 M359,441 V484" stroke="#fff" stroke-width="0.8" fill="none"/>
<path class="p" vector-effect="non-scaling-stroke" d="M245,505 L330,520 L330,568 L245,553 Z"/>
<ellipse class="p" vector-effect="non-scaling-stroke" cx="245" cy="529" rx="12" ry="24"/>
<path class="k" vector-effect="non-scaling-stroke" d="M322,512 L372,528 L372,580 L322,568 Z" style="fill:#333"/>
<path vector-effect="non-scaling-stroke" d="M338,528 V566 M354,534 V570" stroke="#fff" stroke-width="0.8" fill="none"/>
<path class="p" vector-effect="non-scaling-stroke" d="M245,562 L330,577 L330,625 L245,610 Z"/>
<ellipse class="p" vector-effect="non-scaling-stroke" cx="245" cy="586" rx="12" ry="24"/>
<path class="k" vector-effect="non-scaling-stroke" d="M322,569 L372,585 L372,637 L322,625 Z" style="fill:#333"/>
<path vector-effect="non-scaling-stroke" d="M338,585 V623 M354,591 V627" stroke="#fff" stroke-width="0.8" fill="none"/>
<path class="p" vector-effect="non-scaling-stroke" d="M235,622 L330,640 L330,688 L235,670 Z"/>
<ellipse class="p" vector-effect="non-scaling-stroke" cx="235" cy="646" rx="12" ry="24"/>
<path class="k" vector-effect="non-scaling-stroke" d="M322,632 L372,648 L372,700 L322,688 Z" style="fill:#333"/>
<path vector-effect="non-scaling-stroke" d="M338,648 V686 M354,654 V690" stroke="#fff" stroke-width="0.8" fill="none"/>
<path class="n" vector-effect="non-scaling-stroke" d="M240,500 L240,670 M300,470 L440,460 M215,600 L240,590 M165,590 L170,530 L150,530 M170,530 L215,545 L215,600 M130,500 L180,480 L180,415 M380,665 L385,560 L440,540 L445,460 M385,560 L385,500 M420,655 L425,545 M470,610 L468,520 M400,300 L400,460 M440,400 L400,410 M335,260 L300,270 L265,290"/>
<path class="t" vector-effect="non-scaling-stroke" d="M100,110 L125,120 M190,90 L200,130 M250,90 L255,120 M280,120 L285,170 M310,120 L315,185 M350,150 L350,240 M380,160 L378,270 M410,200 L410,280 M435,200 L432,270 M60,450 L100,470 M120,585 L125,560 M410,480 L410,540 M455,500 L455,600 M300,690 L300,670 M350,700 L352,665" style="stroke:#111"/>
<circle class="n" vector-effect="non-scaling-stroke" cx="80" cy="85" r="8"/>
<circle class="n" vector-effect="non-scaling-stroke" cx="118" cy="70" r="7"/>
<circle class="n" vector-effect="non-scaling-stroke" cx="160" cy="150" r="6"/>
<circle class="n" vector-effect="non-scaling-stroke" cx="200" cy="100" r="7"/>
<circle class="n" vector-effect="non-scaling-stroke" cx="250" cy="85" r="7"/>
<circle class="n" vector-effect="non-scaling-stroke" cx="280" cy="250" r="14"/>
<circle class="n" vector-effect="non-scaling-stroke" cx="310" cy="130" r="7"/>
<circle class="n" vector-effect="non-scaling-stroke" cx="355" cy="190" r="8"/>
<circle class="n" vector-effect="non-scaling-stroke" cx="390" cy="215" r="8"/>
<circle class="n" vector-effect="non-scaling-stroke" cx="415" cy="235" r="7"/>
<circle class="n" vector-effect="non-scaling-stroke" cx="350" cy="270" r="8"/>
<circle class="n" vector-effect="non-scaling-stroke" cx="400" cy="330" r="9"/>
<circle class="n" vector-effect="non-scaling-stroke" cx="405" cy="460" r="8"/>
<circle class="n" vector-effect="non-scaling-stroke" cx="460" cy="560" r="8"/>
<circle class="n" vector-effect="non-scaling-stroke" cx="440" cy="590" r="7"/>
<circle class="n" vector-effect="non-scaling-stroke" cx="130" cy="565" r="9"/>
<circle class="n" vector-effect="non-scaling-stroke" cx="180" cy="570" r="8"/>
<circle class="n" vector-effect="non-scaling-stroke" cx="195" cy="430" r="10"/>
<circle class="n" vector-effect="non-scaling-stroke" cx="120" cy="350" r="7"/>
<circle class="n" vector-effect="non-scaling-stroke" cx="125" cy="470" r="8"/>
<circle class="n" vector-effect="non-scaling-stroke" cx="395" cy="640" r="8"/>
</g>

<!-- 24_oilpan.svg -->
<path class="d" d="M269,704 L329.3,671.2"/>
<path class="l" d="M289.6,521 V533.3 M219.7,533.3 H378.5 V691.5 H219.7 Z"/>
<g transform="translate(180,510) scale(0.2985)">
<!-- gasket -->
<path vector-effect="non-scaling-stroke" d="M402,185 L400,140 C400,128 410,124 425,126 L445,130 C480,160 540,200 580,236 C590,250 590,280 590,300 L586,465 C584,480 570,490 555,486" fill="none" stroke="#222" stroke-width="3.2"/>
<path vector-effect="non-scaling-stroke" d="M402,185 L400,140 C400,128 410,124 425,126 L445,130 C480,160 540,200 580,236 C590,250 590,280 590,300 L586,465 C584,480 570,490 555,486" fill="none" stroke="#fff" stroke-width="1.4"/>
<!-- pan -->
<path class="p" vector-effect="non-scaling-stroke" d="M292,215 L300,200 L325,185 L330,170 L345,165 L385,172 L395,180 L410,195 L445,215 L490,240 L520,285 L535,330 L540,420 L535,470 L520,510 L515,530 L495,548 L470,540 L430,520 L390,495 L350,478 L320,455 L305,430 L300,380 L305,340 L300,300 L305,250 Z"/>
<path class="n" vector-effect="non-scaling-stroke" d="M300,200 L318,215 L322,250 L318,300 L322,340 L318,380 L322,425 L335,448 L362,468 L400,485 L440,510 L478,528 L500,535 L515,530 M318,215 L345,205 L395,215 L445,235 L480,255 L505,290 L520,330 L525,420 L520,468 L505,505 L500,535 M325,185 L345,205 M410,195 L395,215 M490,240 L480,255 M535,330 L520,330"/>
<!-- E shaped channels -->
<path class="n" vector-effect="non-scaling-stroke" d="M352,280 C352,270 362,268 372,272 L420,292 C430,298 432,308 425,312 L405,308 L405,325 L425,335 C432,340 430,350 422,350 L402,345 L402,395 C402,405 392,408 385,402 L385,338 L370,332 L370,390 C370,400 358,400 355,392 L352,330 Z"/>
<path class="n" vector-effect="non-scaling-stroke" d="M362,285 L415,305 M378,300 L378,330 M393,312 L393,395 M362,290 L362,388"/>
<path class="n" vector-effect="non-scaling-stroke" d="M372,440 C372,432 382,430 392,435 L430,455 C440,462 440,475 432,490 C428,498 418,498 410,492 L380,472 C372,466 372,455 372,440 Z M382,445 L425,470 M380,460 L420,485"/>
<!-- ribs right -->
<path class="n" vector-effect="non-scaling-stroke" d="M400,228 L440,260 L445,300 M420,235 L462,268 L500,300 M440,245 L500,300 L520,330 M432,300 L470,322 L520,350 M435,322 L470,342 L522,372 M432,350 L470,368 L524,396 M425,378 L470,396 L525,420 M420,405 L470,425 L524,445 M445,440 L480,452 L520,468 M450,470 L485,480 L512,492 M455,495 L485,505 L505,510 M470,322 L470,342 M470,368 L470,396 M470,425 L480,452 M440,260 C470,250 490,270 470,300 C455,305 445,295 445,280 Z"/>
<path class="t" vector-effect="non-scaling-stroke" d="M305,250 L322,262 M300,300 L318,310 M305,340 L322,352 M300,380 L318,392 M305,430 L322,436 M350,478 L362,468 M390,495 L400,485 M430,520 L440,510 M470,540 L478,528"/>
<path class="n" vector-effect="non-scaling-stroke" d="M436,308 L470,330 L520,358 M438,330 L470,350 L522,380 M435,358 L470,376 L524,404 M428,386 L470,404 L525,428 M424,413 L470,433 L524,453 M448,448 L480,460 L520,476 M453,478 L485,488 L512,500 M405,236 L445,268 M425,243 L467,276 L503,308 M460,505 L488,514 M345,205 L350,478 M395,215 L400,485" style="stroke-width:1"/>
<path class="n" vector-effect="non-scaling-stroke" d="M340,262 C340,250 352,246 366,252 L428,280 C442,288 444,304 434,320 M340,262 L342,400 C344,412 360,416 372,410 M360,415 L375,425 L410,410 L410,355" style="stroke-width:1"/>
<path class="n" vector-effect="non-scaling-stroke" d="M292,215 L300,228 L296,300 L300,340 L296,380 L300,428 L318,455 M300,228 L318,215" style="stroke-width:1"/>
<!-- filler neck -->
<path class="p" vector-effect="non-scaling-stroke" d="M350,178 a14,8 0 0 1 28,0 v12 l-3,4 v22 a11,6 0 0 1 -22,0 v-22 l-3,-4 z"/>
<ellipse class="k" vector-effect="non-scaling-stroke" cx="364" cy="178" rx="10" ry="5"/>
<path class="n" vector-effect="non-scaling-stroke" d="M350,190 a14,8 0 0 0 28,0 M330,170 L328,185 M322,195 L340,188 L350,195"/>
<!-- drain -->
<ellipse class="p" vector-effect="non-scaling-stroke" cx="338" cy="438" rx="17" ry="24" transform="rotate(-25 338 438)"/>
<ellipse class="n" vector-effect="non-scaling-stroke" cx="338" cy="438" rx="11" ry="17" transform="rotate(-25 338 438)"/>
<path class="k" vector-effect="non-scaling-stroke" d="M322,420 L345,415 L352,430 L328,450 Z" style="fill:#555"/>
<!-- 45283F plug -->
<path class="p" vector-effect="non-scaling-stroke" d="M346,98 a16,9 0 0 1 32,0 v10 a16,9 0 0 1 -6,6 v26 a10,5 0 0 1 -20,0 v-26 a16,9 0 0 1 -6,-6 z"/>
<ellipse class="k" vector-effect="non-scaling-stroke" cx="362" cy="98" rx="10" ry="5"/>
<path class="n" vector-effect="non-scaling-stroke" d="M346,108 a16,9 0 0 0 32,0 M352,124 a10,5 0 0 0 20,0"/>
<!-- 45286A -->
<path class="p" vector-effect="non-scaling-stroke" d="M192,498 L205,486 L228,490 L240,505 L250,512 L248,524 L235,530 L215,525 L200,512 Z"/>
<path class="n" vector-effect="non-scaling-stroke" d="M205,486 L212,505 L235,530 M212,505 L240,505 M222,510 C228,502 240,508 238,518"/>
<path class="k" vector-effect="non-scaling-stroke" d="M232,494 L240,505 L232,510 L228,500 Z"/>
<!-- 45285B o-ring -->
<ellipse vector-effect="non-scaling-stroke" cx="290" cy="468" rx="13" ry="16" transform="rotate(-20 290 468)" fill="none" stroke="#222" stroke-width="1.6"/>
</g>
<path class="l" d="M292,540.7 H311.3 M247.2,640 V656.3 M267.2,655 V671 M352.5,653.3 V675 M242.7,707 H261.2"/>
<!-- 1140ES bolt -->
<use href="#dbolt" transform="translate(269,703.8) rotate(147) scale(0.65)"/>

<!-- 25_bottomcenter.svg -->
<path class="d" d="M622,500 V565.6 L520.4,624 V659"/>
<path class="d" d="M506.5,672 V690"/>
<path class="d" d="M647.8,505 V609 M652.4,505 V620.5"/>
<path class="d" d="M669.3,500 V530 L678,536.5"/>
<path class="d" d="M707.9,556.3 L736,571.2"/>
<path class="d" d="M704,486 L729.4,500"/>
<!-- 45324 lower -->
<path class="p" d="M644.6,611 q3.6,-1.8 7.2,0 v2.2 l-1,0.8 v4.2 q-2.6,1.2 -5.2,0 v-4.2 l-1,-0.8 z"/>
<path class="t" d="M644.6,613 q3.6,1.4 7.2,0"/>
<path class="l" d="M626.3,616.4 H644.5"/>
<!-- 45323B washer -->
<ellipse class="p" cx="653.4" cy="625" rx="4.8" ry="2.7"/><ellipse class="n" cx="653.4" cy="625" rx="2.4" ry="1.2"/>
<path class="l" d="M658.4,625.7 H675.5"/>
<!-- 43171B plug -->
<path class="p" d="M650.6,636 q3.4,-1.6 6.8,0 v3 q2.2,0.6 2.2,2 v1.6 q0,2.4 -5.6,2.4 q-5.6,0 -5.6,-2.4 v-1.6 q0,-1.4 2.2,-2 z"/>
<path class="t" d="M650.6,638.8 q3.4,1.6 6.8,0 M648.4,641 q5.6,3 11.2,0"/>
<path class="l" d="M659.6,641.5 H675.5"/>
<!-- 45264C pipes -->
<path class="l" d="M698.6,516.5 V528.3"/>
<g transform="translate(490,487) scale(0.3301)">
<path vector-effect="non-scaling-stroke" d="M562,152 L625,128 L660,140 C672,145 675,160 672,178 M560,180 L625,150 L650,160 C660,166 660,180 655,205" fill="none" stroke="#222" stroke-width="4.6" stroke-linecap="round"/>
<path vector-effect="non-scaling-stroke" d="M562,152 L625,128 L660,140 C672,145 675,160 672,178 M560,180 L625,150 L650,160 C660,166 660,180 655,205" fill="none" stroke="#fff" stroke-width="2.6" stroke-linecap="round"/>
<path class="p" vector-effect="non-scaling-stroke" d="M622,128 L640,122 L645,128 L645,160 L628,165 L622,158 Z"/>
<ellipse class="n" vector-effect="non-scaling-stroke" cx="672" cy="180" rx="6" ry="8"/><ellipse class="n" vector-effect="non-scaling-stroke" cx="655" cy="206" rx="7" ry="8"/>
<ellipse class="n" vector-effect="non-scaling-stroke" cx="640" cy="125" rx="5" ry="3"/>
</g>
<!-- 1751GE rings -->
<ellipse cx="697.7" cy="549.7" rx="3.4" ry="3" fill="none" stroke="#222" stroke-width="1.3" transform="rotate(-20 697.7 549.7)"/>
<ellipse cx="738" cy="573.2" rx="2.8" ry="3.7" fill="none" stroke="#222" stroke-width="1.3" transform="rotate(-25 738 573.2)"/>
<path class="l" d="M738.3,552 V569.5 M697.3,553 V571.2 M744.2,582.7 V597.6"/>
<!-- 45267G bolt -->
<path class="p" d="M740.4,572.4 L746.6,576.4 L745.2,579.6 L739,576 a1.3,2.1 -30 0 1 1.4,-3.6 z"/>
<path class="p" d="M746.8,574.2 C748.4,573.4 751.8,575.6 752.6,578.6 C753.2,581.4 752,583.2 750.4,583 C748,582.8 745.4,580 745,577.4 Z"/>
<ellipse class="n" cx="749.6" cy="578.8" rx="1.8" ry="3.4" transform="rotate(-30 749.6 578.8)"/>
<!-- 45271C pin -->
<path class="p" d="M729.6,500.2 l2.8,-0.8 l2,2.2 l-0.8,1.8 l-2.6,0.2 z" style="fill:#555"/>
<path class="l" d="M732.7,484 V499.5"/>
<!-- 45920B sensor -->
<path class="l" d="M557.7,634 V655.4"/>
<g transform="translate(490,487) scale(0.3301)">
<path class="n" vector-effect="non-scaling-stroke" d="M205,440 L160,462 L140,490 L95,525 L60,535 C52,538 50,545 50,555" style="stroke-width:1.6"/>
<path class="n" vector-effect="non-scaling-stroke" d="M200,432 L155,455 L135,482 L90,518 L55,528 C45,532 42,540 44,555"/>
<path class="p" vector-effect="non-scaling-stroke" d="M200,430 L215,422 L225,428 L222,440 L208,448 L198,442 Z"/>
<path class="k" vector-effect="non-scaling-stroke" d="M204,432 L214,428 L218,436 L208,442 Z"/>
<!-- 45710E -->
<path class="p" vector-effect="non-scaling-stroke" d="M40,600 L55,598 L80,605 L130,612 L160,622 L165,632 L150,645 L130,655 L110,648 L80,645 L60,635 L42,628 L45,615 Z"/>
<path class="n" vector-effect="non-scaling-stroke" d="M42,628 L42,636 L60,643 L80,652 L110,655 L130,662 L150,652 L165,640 L165,632 M95,625 L120,618 L140,625 L115,635 Z M60,615 L75,612 M62,628 L75,630"/>
<path class="p" vector-effect="non-scaling-stroke" d="M84,548 a7,4 0 0 1 14,0 v20 l3,3 v25 l-3,5 v14 a6,3 0 0 1 -12,0 v-14 l-3,-5 v-25 l3,-3 z"/>
<path class="n" vector-effect="non-scaling-stroke" d="M84,568 h14 M82,572 h18 M82,596 h18 M85,601 h12"/>
<path class="k" vector-effect="non-scaling-stroke" d="M52,620 L70,618 L70,626 L52,628 Z"/>
</g>
<path class="l" d="M543.5,695 H560.3"/>
<!-- FR arrow -->
<path d="M47.1,667 L52.3,670 L61.4,664.7 L69.9,669.2 L61.8,674.4 L66,677.5 L47.1,677.7 Z" fill="#000"/>

<!-- 26_bottomright.svg -->
<path class="d" d="M716,404 L770,403.4 M716,420 L770,419" style="display:none"/>
<path class="d" d="M715.3,411.7 L743,427.3 L793.6,397.4 L831.4,418.9"/>
<path class="d" d="M715.3,420.1 L743,435.7 L781.8,412.8 L791,418.4"/>
<path class="d" d="M990.4,528.6 L973.7,551.6"/>
<path class="d" d="M827.5,600 L843.6,606.6 L887.8,578.6"/>
<path class="d" d="M872,559.3 L895.2,571.3"/>
<path class="d" d="M959,605.6 L993.4,621.3"/>
<path class="d" d="M912.4,644.9 L965.4,671.9"/>
<!-- 45272B box -->
<path class="l" d="M956.5,371 H1035.1 V464.7 H956.5 Z M956.5,399.5 H1035.1"/>
<use href="#dbolt" transform="translate(986.8,427.2) rotate(31) scale(1.25)"/>
<!-- 11405B leader -->
<path class="l" d="M754.5,372.9 V386.4"/>
<!-- 45254A dot & 45249B -->
<path class="l" d="M830.6,403 V417"/>
<circle cx="831.7" cy="418.8" r="1.3" fill="#222"/>
<path class="p" d="M835.4,421.6 a2.2,2.6 0 0 1 3.4,-1.4 l2.6,0.8 a2,2.6 0 0 1 -0.6,4.8 l-3,-0.4 a2.4,2.4 0 0 1 -2.4,-3.8 z" style="fill:#bbb"/>
<path class="l" d="M842.7,422 H860.8"/>
<!-- 45245A seal -->
<g transform="translate(800.7,424.3) scale(1.0) rotate(34) translate(-149.2,-131.6)">
<ellipse class="p" cx="149.2" cy="131.6" rx="7.8" ry="13.8" style="stroke-width:1.6"/>
<ellipse class="n" cx="149.8" cy="131.8" rx="6.4" ry="12.2" style="stroke-width:.9"/>
<ellipse class="n" cx="150.4" cy="132" rx="5.2" ry="10.6" style="stroke-width:.9"/>
<ellipse class="p" cx="150.8" cy="132" rx="3.6" ry="8" style="stroke-width:2.2"/>
</g>
<path class="l" d="M801.5,436.4 V453.5"/>
<!-- 45241A leader -->
<path class="l" d="M708.5,447.9 H726.2"/>
<!-- 45320D box -->
<path class="l" d="M891.7,472 V482.9 M787.2,482.9 H996.8 V610.5 L903.5,666 H787.2 Z"/>
<!-- o-rings -->
<ellipse cx="810.1" cy="523.9" rx="8.6" ry="13" fill="none" stroke="#111" stroke-width="1.6" transform="rotate(20 810.1 523.9)"/>
<ellipse cx="827.2" cy="534.3" rx="8.6" ry="13" fill="none" stroke="#111" stroke-width="1.6" transform="rotate(20 827.2 534.3)"/>
<path class="l" d="M831.4,503.5 V521.5 M808.3,537 V554.1 M867.4,529.9 V550.6 M845.7,558.8 V571.3 M970.3,526.6 H988.5 M826.5,600.7 V615.5 M998.3,630.2 V644.9 M982.1,678.3 H998.3"/>
<!-- 45332C ring -->
<g transform="rotate(20 847 545.4)">
<ellipse class="p" cx="849.6" cy="545.4" rx="8.6" ry="13.4"/>
<ellipse class="p" cx="846" cy="545.4" rx="8.8" ry="13.6" style="stroke-width:1.8"/>
<path class="n" d="M839.4,538 Q838,545.4 839.4,553 M841.2,535.4 Q839.4,545.4 841.2,555.6 M843,533.6 Q840.8,545.4 843,557.4" style="stroke-width:1.3"/>
<ellipse class="p" cx="849" cy="545.4" rx="6.6" ry="11.2"/>
<path class="n" d="M849.6,535 Q854.6,545.4 849.6,556" style="stroke-width:1"/>
</g>
<!-- 43253B -->
<path class="p" d="M861,550.9 L867.4,551.6 a3.4,4.8 12 0 1 1.6,9.6 L862.6,559.6 Z"/>
<ellipse class="p" cx="862.2" cy="555.2" rx="3" ry="4.6" transform="rotate(12 862.2 555.2)"/>
<ellipse class="p" cx="868.2" cy="556.6" rx="3.2" ry="4.8" transform="rotate(12 868.2 556.6)" style="fill:#999"/>
<ellipse class="n" cx="868.4" cy="556.8" rx="1.6" ry="2.8" transform="rotate(12 868.4 556.8)" style="stroke-width:.8"/>
<!-- 46128 dot -->
<circle class="p" cx="990.4" cy="526.6" r="2"/>
<circle class="p" cx="826.5" cy="599.3" r="1.5"/>
<!-- 1140GD bolt -->
<use href="#dbolt" transform="translate(993.6,620.8) rotate(35) scale(1.2)"/>
<!-- 45277B bolt -->
<use href="#dbolt" transform="translate(965.6,672.2) rotate(33) scale(1.2)"/>
<!-- cover -->
<g transform="translate(875,525) scale(0.19262)">
<path class="p" vector-effect="non-scaling-stroke" d="M228,105 L260,88 L298,100 L300,118 L320,95 L345,88 L365,105 L400,95 L420,75 L445,72 L470,95 L475,115 L500,140 L512,165 L500,185 L485,195 L490,230 L470,260 L468,300 L450,330 L440,365 L445,395 L425,420 L410,455 L400,490 L385,520 L350,540 L300,560 L280,585 L220,610 L195,635 L165,650 L135,635 L130,605 L100,585 L95,550 L75,520 L55,500 L50,440 L60,390 L70,350 L100,330 L115,290 L125,250 L150,225 L175,190 L200,160 L228,140 Z"/>
<path class="n" vector-effect="non-scaling-stroke" d="M228,150 L210,172 L185,200 L160,235 L140,262 L130,300 L115,340 L85,360 L75,400 L65,445 L70,495 L90,520 L110,550 L115,580 L145,600 L150,625 L168,635 L190,622 L215,598 L272,572 L295,548 L345,528 L375,510 L388,482 L398,448 L412,412 L430,390 L426,362 L436,325 L454,295 L456,258 L475,228 L470,192 L488,175 L492,160 L470,125 L455,100 L440,90 L425,92 L405,110 L365,120 L345,102 L325,108 L305,135 L298,190"/>
<path class="p" vector-effect="non-scaling-stroke" d="M230,105 a32,14 0 0 1 64,0 V185 a32,14 0 0 1 -64,0 Z"/>
<ellipse class="n" vector-effect="non-scaling-stroke" cx="262" cy="105" rx="32" ry="14"/><ellipse class="n" vector-effect="non-scaling-stroke" cx="262" cy="105" rx="16" ry="7"/>
<g transform="translate(332,358) rotate(22) scale(0.84,1)">
<circle class="n" vector-effect="non-scaling-stroke" cx="0" cy="0" r="20"/>
<circle class="n" vector-effect="non-scaling-stroke" cx="0" cy="0" r="44"/>
<circle class="n" vector-effect="non-scaling-stroke" cx="0" cy="0" r="80"/>
<circle class="n" vector-effect="non-scaling-stroke" cx="0" cy="0" r="118"/>
<circle class="t" vector-effect="non-scaling-stroke" cx="0" cy="0" r="50" style="stroke:#111"/>
<circle class="t" vector-effect="non-scaling-stroke" cx="0" cy="0" r="86" style="stroke:#111"/>
<path class="n" vector-effect="non-scaling-stroke" d="M20.0,-3.0 L44.0,-3.0 M20.0,3.0 L44.0,3.0 M16.3,12.0 L33.2,29.0 M12.0,16.3 L29.0,33.2 M3.0,20.0 L3.0,44.0 M-3.0,20.0 L-3.0,44.0 M-12.0,16.3 L-29.0,33.2 M-16.3,12.0 L-33.2,29.0 M-20.0,3.0 L-44.0,3.0 M-20.0,-3.0 L-44.0,-3.0 M-16.3,-12.0 L-33.2,-29.0 M-12.0,-16.3 L-29.0,-33.2 M-3.0,-20.0 L-3.0,-44.0 M3.0,-20.0 L3.0,-44.0 M12.0,-16.3 L29.0,-33.2 M16.3,-12.0 L33.2,-29.0 M49.8,6.0 L79.2,12.0 M48.2,13.9 L77.6,19.8 M40.1,30.1 L62.6,50.0 M34.8,36.1 L57.3,56.0 M19.7,46.1 L29.2,74.6 M12.1,48.7 L21.6,77.1 M-6.0,49.8 L-12.0,79.2 M-13.9,48.2 L-19.8,77.6 M-30.1,40.1 L-50.0,62.6 M-36.1,34.8 L-56.0,57.3 M-46.1,19.7 L-74.6,29.2 M-48.7,12.1 L-77.1,21.6 M-49.8,-6.0 L-79.2,-12.0 M-48.2,-13.9 L-77.6,-19.8 M-40.1,-30.1 L-62.6,-50.0 M-34.8,-36.1 L-57.3,-56.0 M-19.7,-46.1 L-29.2,-74.6 M-12.1,-48.7 L-21.6,-77.1 M6.0,-49.8 L12.0,-79.2 M13.9,-48.2 L19.8,-77.6 M30.1,-40.1 L50.0,-62.6 M36.1,-34.8 L56.0,-57.3 M46.1,-19.7 L74.6,-29.2 M48.7,-12.1 L77.1,-21.6 M86.0,4.6 L117.8,7.8 M85.2,12.6 L117.0,15.8 M77.7,37.2 L105.9,52.3 M73.9,44.2 L102.1,59.3 M57.5,64.0 L77.8,88.8 M51.3,69.1 L71.6,93.9 M28.6,81.2 L37.9,111.8 M21.0,83.5 L30.2,114.1 M-4.6,86.0 L-7.8,117.8 M-12.6,85.2 L-15.8,117.0 M-37.2,77.7 L-52.3,105.9 M-44.2,73.9 L-59.3,102.1 M-64.0,57.5 L-88.8,77.8 M-69.1,51.3 L-93.9,71.6 M-81.2,28.6 L-111.8,37.9 M-83.5,21.0 L-114.1,30.2 M-86.0,-4.6 L-117.8,-7.8 M-85.2,-12.6 L-117.0,-15.8 M-77.7,-37.2 L-105.9,-52.3 M-73.9,-44.2 L-102.1,-59.3 M-57.5,-64.0 L-77.8,-88.8 M-51.3,-69.1 L-71.6,-93.9 M-28.6,-81.2 L-37.9,-111.8 M-21.0,-83.5 L-30.2,-114.1 M4.6,-86.0 L7.8,-117.8 M12.6,-85.2 L15.8,-117.0 M37.2,-77.7 L52.3,-105.9 M44.2,-73.9 L59.3,-102.1 M64.0,-57.5 L88.8,-77.8 M69.1,-51.3 L93.9,-71.6 M81.2,-28.6 L111.8,-37.9 M83.5,-21.0 L114.1,-30.2" style="stroke-width:1"/>
</g>
<path class="n" vector-effect="non-scaling-stroke" d="M130,262 L215,310 M125,285 L210,330 M118,308 L205,352 M160,235 L235,280 M185,205 L250,250 M210,175 L262,220 M100,335 L200,380 M95,360 L120,372 M300,125 L320,215 M345,105 L350,225 M405,112 L385,240 M440,95 L420,255 M470,130 L440,270 M385,515 L360,470 M345,530 L320,480 M272,572 L262,500 M215,598 L225,490 M168,632 L190,510 M110,552 L170,470 M455,260 L430,290 M470,195 L445,215"/>
<path class="p" vector-effect="non-scaling-stroke" d="M98,395 L130,385 L158,395 L162,430 L150,455 L120,470 L98,460 L92,430 Z"/>
<path class="n" vector-effect="non-scaling-stroke" d="M98,395 L120,410 L150,400 M120,410 L120,470 M100,430 C110,420 125,430 118,445"/>
<path class="k" vector-effect="non-scaling-stroke" d="M92,440 L108,448 L106,468 L94,460 Z"/>
<circle class="p" vector-effect="non-scaling-stroke" cx="160" cy="258" r="10" style="stroke-width:1"/>
<circle class="p" vector-effect="non-scaling-stroke" cx="205" cy="178" r="10" style="stroke-width:1"/>
<circle class="p" vector-effect="non-scaling-stroke" cx="340" cy="120" r="10" style="stroke-width:1"/>
<circle class="p" vector-effect="non-scaling-stroke" cx="440" cy="95" r="10" style="stroke-width:1"/>
<circle class="p" vector-effect="non-scaling-stroke" cx="490" cy="180" r="10" style="stroke-width:1"/>
<circle class="p" vector-effect="non-scaling-stroke" cx="458" cy="295" r="10" style="stroke-width:1"/>
<circle class="p" vector-effect="non-scaling-stroke" cx="432" cy="400" r="10" style="stroke-width:1"/>
<circle class="p" vector-effect="non-scaling-stroke" cx="390" cy="515" r="10" style="stroke-width:1"/>
<circle class="p" vector-effect="non-scaling-stroke" cx="275" cy="575" r="10" style="stroke-width:1"/>
<circle class="p" vector-effect="non-scaling-stroke" cx="160" cy="632" r="10" style="stroke-width:1"/>
<circle class="p" vector-effect="non-scaling-stroke" cx="85" cy="505" r="10" style="stroke-width:1"/>
<circle class="p" vector-effect="non-scaling-stroke" cx="95" cy="370" r="10" style="stroke-width:1"/>
<circle class="p" vector-effect="non-scaling-stroke" cx="120" cy="590" r="10" style="stroke-width:1"/>
<circle class="p" vector-effect="non-scaling-stroke" cx="500" cy="150" r="10" style="stroke-width:1"/>
</g>

<!-- 90_labels.svg -->
<g style="opacity:0.999">
<text x="231.9" y="29.9">1140EJ</text>
<text x="232.9" y="54.6">45219C</text>
<text x="375.6" y="68.6">45324</text>
<text x="372.6" y="84.1">21513</text>
<text x="228.1" y="112.1">43147</text>
<text x="122.8" y="172.6">45217A</text>
<text x="130.8" y="218.1">45231</text>
<text x="358.8" y="163.6">45272A</text>
<text x="388.5" y="187.1">1140EJ</text>
<text x="347.1" y="219.6">1430JB</text>
<text x="309.8" y="281.1">43135</text>
<text x="414.5" y="273.6">1140EJ</text>
<text x="181.6" y="333.8">45218D</text>
<text x="191.4" y="357.8">1123LE</text>
<text x="480.9" y="235.5">45931F</text>
<text x="462.3" y="332.0">48648</text>
<text x="446.0" y="352.2">1141AA</text>
<text x="482.2" y="106.1">1140EP</text>
<text x="476.6" y="135.3">45956B</text>
<text x="493.9" y="162.9">45840A</text>
<text x="493.9" y="181.3">45686B</text>
<text x="584.5" y="80.1">1311FA</text>
<text x="586.5" y="96.6">1360CF</text>
<text x="599.4" y="112.2">45932B</text>
<text x="663.4" y="90.4">45262B</text>
<text x="730.1" y="81.4">45260J</text>
<text x="700.0" y="120.7">46755E</text>
<text x="691.9" y="146.5">43929</text>
<text x="758.1" y="175.7">45957A</text>
<text x="685.8" y="191.0">43714B</text>
<text x="691.4" y="205.6">43838</text>
<text x="722.6" y="248.9">1140FC</text>
<text x="727.4" y="280.4">91931F</text>
<text x="738.6" y="296.5">45347</text>
<text x="795.2" y="361.2">45227</text>
<text x="846.4" y="100.5">45215D</text>
<text x="967.2" y="105.2">1123MG</text>
<text x="967.1" y="119.5">45225</text>
<text x="810.9" y="173.5">1140EJ</text>
<text x="519.5" y="248.9">45254</text>
<text x="543.1" y="266.4">45255</text>
<text x="570.0" y="283.0">45253A</text>
<text x="131.1" y="371.6">45252A</text>
<text x="110.3" y="400.0">45228A</text>
<text x="110.3" y="417.2">89087</text>
<text x="108.2" y="437.7">1472AE</text>
<text x="120.5" y="516.9">1472AF</text>
<text x="359.5" y="401.3">46321</text>
<text x="371.8" y="431.0">46155</text>
<text x="381.0" y="485.9">45950A</text>
<text x="352.8" y="503.4">45954B</text>
<text x="268.1" y="517.9">45283B</text>
<text x="315.6" y="545.2">45283F</text>
<text x="224.6" y="636.9">45286A</text>
<text x="246.1" y="683.1">45285B</text>
<text x="328.2" y="688.2">45282E</text>
<text x="195.5" y="711.5">1140ES</text>
<text x="468.3" y="465.5">45952A</text>
<text x="488.7" y="485.6">45271D</text>
<text x="532.2" y="381.6">43137E</text>
<text x="521.5" y="576.9">1140HG</text>
<text x="732.9" y="398.2">11405B</text>
<text x="810.1" y="400.4">45254A</text>
<text x="863.1" y="426.5">45249B</text>
<text x="731.1" y="453.6">45241A</text>
<text x="778.6" y="465.7">45245A</text>
<text x="710.1" y="480.4">45271C</text>
<text x="676.8" y="512.7">45264C</text>
<text x="716.9" y="548.1">1751GE</text>
<text x="675.0" y="583.4">1751GE</text>
<text x="722.5" y="607.5">45267G</text>
<text x="552.6" y="554.1">46210A</text>
<text x="589.5" y="621.7">45324</text>
<text x="680.3" y="631.3">45323B</text>
<text x="680.3" y="646.5">43171B</text>
<text x="537.0" y="665.3">45920B</text>
<text x="565.7" y="700.0">45710E</text>
<text x="870.4" y="469.1">45320D</text>
<text x="814.0" y="500.1">45516</text>
<text x="791.9" y="565.4">45516</text>
<text x="846.9" y="524.6">43253B</text>
<text x="823.8" y="585.0">45332C</text>
<text x="932.8" y="530.5">46128</text>
<text x="804.2" y="627.2">47111E</text>
<text x="975.3" y="655.7">1140GD</text>
<text x="1001.5" y="682.7">45277B</text>
<text x="972.1" y="391.1">45272B</text>
<text x="349.4" y="463.3" style="fill:#808080">REF.43-462B</text>
<text x="19.6" y="690.8" style="font-size:18.3px;font-weight:bold;fill:#000">FR.</text>
</g>
</svg>
</body></html>
